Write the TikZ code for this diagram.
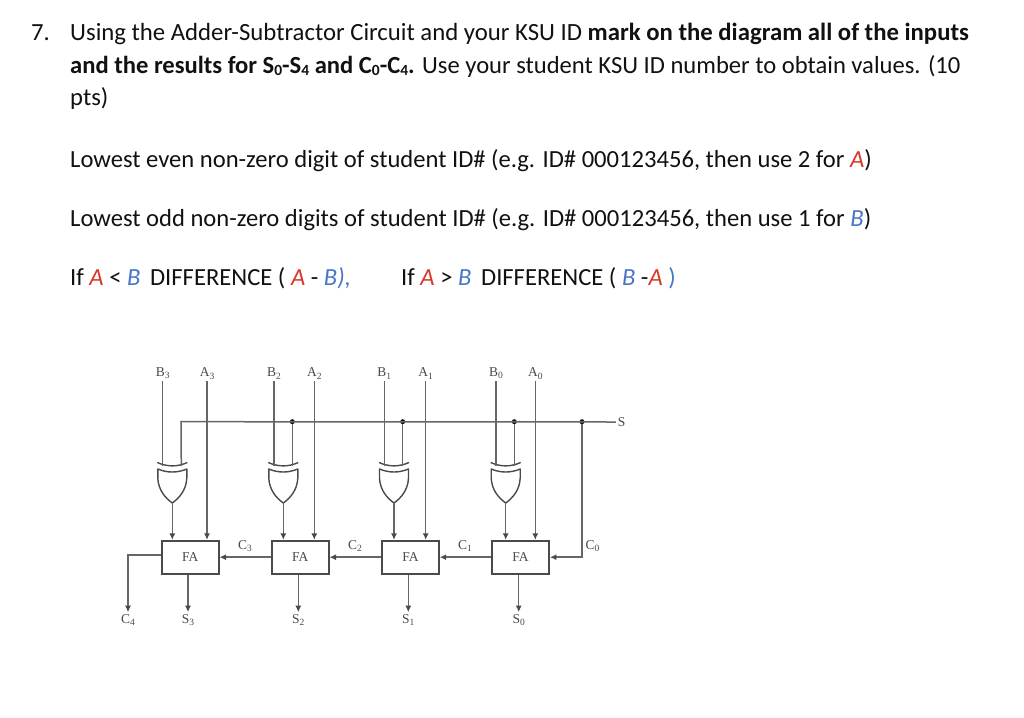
\documentclass[tikz,border=0pt]{standalone}
\usepackage{fontspec}
\setmainfont{Carlito}
\newfontfamily\circfont{Liberation Serif}
\usetikzlibrary{arrows.meta}
\definecolor{ink}{HTML}{111111}
\definecolor{wire}{HTML}{666666}
\definecolor{wiretext}{HTML}{4A4A4A}
\definecolor{keyred}{HTML}{D9372B}
\definecolor{keyblue}{HTML}{4A76C9}
\newcommand{\low}[1]{\raisebox{-2pt}{\fontsize{15.5}{17}\selectfont #1}}
\newcommand{\lbl}[2]{#1\raisebox{-2.2pt}{\fontsize{9.5}{10}\selectfont #2}}
\newcommand{\ra}{\textcolor{keyred}{\textit{A}}}
\newcommand{\bb}{\textcolor{keyblue}{\textit{B}}}
\newcommand{\xorgate}[2]{%
  \coordinate (#1ina) at (#2-10.5,466);
  \coordinate (#1inb) at (#2+9,466);
  \coordinate (#1out) at (#2,503);
  \draw[gate] (#2-14.5,469) .. controls (#2-5,473) and (#2+5,473) .. (#2+14.5,469)
     -- (#2+14.5,478) .. controls (#2+14,490) and (#2+7,498) .. (#2,503)
     .. controls (#2-7,498) and (#2-14,490) .. (#2-14.5,478) -- cycle;
  \draw[gate] (#2-15,462.5) .. controls (#2-5,467) and (#2+5,467) .. (#2+15,462.5);
}
\tikzset{
  x=1pt,y=-1pt,
  para/.style={anchor=base west,inner sep=0pt,text=ink,font=\fontsize{24.6}{29}\selectfont},
  fa/.style={draw=wiretext,line width=1.6pt,minimum width=57pt,minimum height=33pt,inner sep=0pt,text=wiretext,font=\circfont\fontsize{13.5}{15}\selectfont},
  clab/.style={inner sep=2pt,text=wiretext,font=\circfont\fontsize{13.5}{15}\selectfont},
  sig/.style={draw=wire,line width=1.5pt},
  arr/.style={sig,-{Latex[length=6.5pt,width=6pt,wiretext]}},
  gate/.style={draw=wiretext,line width=1.4pt,line join=round},
  jdot/.style={circle,fill=ink,inner sep=0pt,minimum size=5pt}
}
\begin{document}
\begin{tikzpicture}
\useasboundingbox (0,0) rectangle (1024,717);
\fill[white] (0,0) rectangle (1024,717);
% text
\node[para] (q) at (31,41) {7.};
\node[para,font=\fontsize{24.75}{29}\selectfont] (l1) at (70,41) {Using the Adder-Subtractor Circuit and your KSU ID \textbf{mark on the diagram all of the inputs}};
\node[para] (l2) at (70,73) {\textbf{and the results for S\low{0}-S\low{4} and C\low{0}-C\low{4}.} Use your student KSU ID number to obtain values. (10};
\node[para] (l3) at (70,105) {pts)};
\node[para] (l4) at (70,167) {Lowest even non-zero digit of student ID\# (e.g. ID\# 000123456, then use 2 for \ra)};
\node[para] (l5) at (70,226) {Lowest odd non-zero digits of student ID\# (e.g. ID\# 000123456, then use 1 for \bb)};
\node[para] (l6) at (70,285) {If \ra{} < \bb{}\, DIFFERENCE ( \ra{} - \textcolor{keyblue}{\textit{B),}}};
\node[para] (l7) at (401,285) {If \ra{} > \bb{}\, DIFFERENCE ( \bb{} -\ra{} \textcolor{keyblue}{)}};
% FA blocks
\node[fa] (fa3) at (190.2,557.2) {FA};
\node[fa] (fa2) at (300.2,557.2) {FA};
\node[fa] (fa1) at (410.4,557.2) {FA};
\node[fa] (fa0) at (520.6,557.2) {FA};
% top labels
\node[clab] (b3) at (162.7,373.5) {\lbl{B}{3}};
\node[clab] (a3) at (207,373.5) {\lbl{A}{3}};
\node[clab] (b2) at (274,373.5) {\lbl{B}{2}};
\node[clab] (a2) at (314.3,373.5) {\lbl{A}{2}};
\node[clab] (b1) at (384.3,373.5) {\lbl{B}{1}};
\node[clab] (a1) at (425.7,373.5) {\lbl{A}{1}};
\node[clab] (b0) at (496,373.5) {\lbl{B}{0}};
\node[clab] (a0) at (535.3,373.5) {\lbl{A}{0}};
\node[clab] (s) at (621.7,422) {S};
% bottom labels
\node[clab] (c4) at (128,620) {\lbl{C}{4}};
\node[clab] (s3) at (188,620) {\lbl{S}{3}};
\node[clab] (s2) at (298.3,620) {\lbl{S}{2}};
\node[clab] (s1) at (408.3,620) {\lbl{S}{1}};
\node[clab] (s0) at (518.7,620) {\lbl{S}{0}};
% carry labels
\node[clab] (c3) at (245,546) {\lbl{C}{3}};
\node[clab] (c2) at (355,546) {\lbl{C}{2}};
\node[clab] (c1) at (465,546) {\lbl{C}{1}};
\node[clab] (c0) at (592.5,546) {\lbl{C}{0}};
% select bus
\coordinate (busl) at (181,421.7);
\coordinate (x3top) at (181,466);
\node[jdot] (j2) at (292.3,421.7) {};
\node[jdot] (j1) at (402.7,421.7) {};
\node[jdot] (j0) at (514.3,421.7) {};
\node[jdot] (jc) at (582,421.7) {};
% gates
\xorgate{x3}{172.3}
\xorgate{x2}{283.3}
\xorgate{x1}{394}
\xorgate{x0}{505.7}
% wires
\draw[sig] (x3inb) -- (busl) -- (s.west);
\draw[sig] (j2) -- (j2 |- x2inb);
\draw[sig] (j1) -- (j1 |- x1inb);
\draw[sig] (j0) -- (j0 |- x0inb);
% B inputs to gates
\draw[sig] (b3.south) -- (b3.south |- x3ina);
\draw[sig] (b2.south) -- (b2.south |- x2ina);
\draw[sig] (b1.south) -- (b1.south |- x1ina);
\draw[sig] (b0.south) -- (b0.south |- x0ina);
% A inputs
\draw[arr] (a3.south) -- (a3.south |- fa3.north);
\draw[arr] (a2.south) -- (a2.south |- fa2.north);
\draw[arr] (a1.south) -- (a1.south |- fa1.north);
\draw[arr] (a0.south) -- (a0.south |- fa0.north);
% gate outputs
\draw[arr] (x3out) -- (x3out |- fa3.north);
\draw[arr] (x2out) -- (x2out |- fa2.north);
\draw[arr] (x1out) -- (x1out |- fa1.north);
\draw[arr] (x0out) -- (x0out |- fa0.north);
% carries
\draw[arr] (fa2.west) -- (fa3.east);
\draw[arr] (fa1.west) -- (fa2.east);
\draw[arr] (fa0.west) -- (fa1.east);
\draw[arr] (jc) -- (jc |- fa0.east) -- (fa0.east);
\coordinate (c4turn) at (128,555);
\draw[arr] (fa3.west |- c4turn) -- (c4turn) -- (c4.north);
% sums
\draw[arr] (s3.north |- fa3.south) -- (s3.north);
\draw[arr] (s2.north |- fa2.south) -- (s2.north);
\draw[arr] (s1.north |- fa1.south) -- (s1.north);
\draw[arr] (s0.north |- fa0.south) -- (s0.north);
\end{tikzpicture}
\end{document}
